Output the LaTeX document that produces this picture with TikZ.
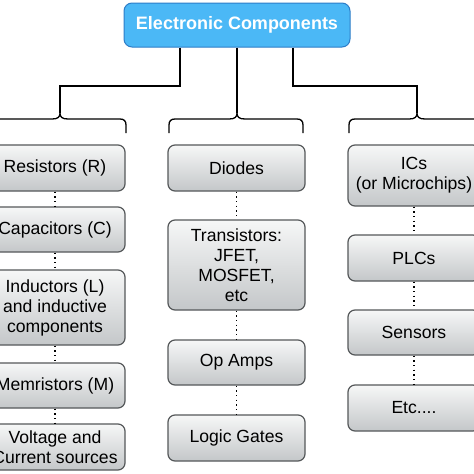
\documentclass[tikz,border=0pt]{standalone}
\usepackage{fontspec}
\setmainfont{Liberation Sans}
\begin{document}
\begin{tikzpicture}[x=1pt,y=-1pt,
  titlebox/.style={draw={rgb,255:red,45;green,125;blue,200}, line width=1pt, fill={rgb,255:red,75;green,184;blue,246},
     rounded corners=8pt, text=white, font=\fontsize{18}{21}\selectfont\bfseries,
     minimum width=226pt, minimum height=44pt, inner sep=0pt},
  itembox/.style={draw={rgb,255:red,85;green,88;blue,90}, line width=1.2pt, rounded corners=7pt,
     top color={rgb,255:red,246;green,247;blue,247}, bottom color={rgb,255:red,196;green,199;blue,201},
     align=center, font=\fontsize{17.6}{20}\selectfont, inner sep=0pt},
  lc/.style={itembox, minimum width=140pt},
  mc/.style={itembox, minimum width=137pt},
  rc/.style={itembox, minimum width=132pt},
  brace/.style={line width=1.3pt, black},
  dots/.style={line width=1.2pt, black, dash pattern=on 1.2pt off 3.5pt}]
\useasboundingbox (0,0) rectangle (474,474);
\clip (0,0) rectangle (474,474);
\fill[white] (0,0) rectangle (474,474);

\node[titlebox] (top) at (237,25) {Electronic Components};

% left column
\node[lc, minimum height=46pt] (res) at (55,168) {Resistors (R)};
\node[lc, minimum height=45pt] (cap) at (55,229.5) {Capacitors (C)};
\node[lc, minimum height=75pt] (ind) at (55,307.5) {Inductors (L)\\and inductive\\components};
\node[lc, minimum height=45pt] (mem) at (55,385.5) {Memristors (M)};
\node[lc, minimum height=46pt] (vol) at (55,447) {Voltage and\\Current sources};

% middle column
\node[mc, minimum height=46pt] (dio) at (236.5,168) {Diodes};
\node[mc, minimum height=90pt] (tra) at (236.5,265) {Transistors:\\JFET,\\MOSFET,\\etc};
\node[mc, minimum height=45pt] (opa) at (236.5,362.5) {Op Amps};
\node[mc, minimum height=46pt] (log) at (236.5,438) {Logic Gates};

% right column
\node[rc, minimum height=61pt] (ics) at (414,175.5) {ICs\\(or Microchips)};
\node[rc, minimum height=46pt] (plc) at (414,258) {PLCs};
\node[rc, minimum height=45pt] (sen) at (414,332.5) {Sensors};
\node[rc, minimum height=46pt] (etc) at (414,408) {Etc....};

% dotted connectors
\draw[dots] (res.south) -- (cap.north);
\draw[dots] (cap.south) -- (ind.north);
\draw[dots] (ind.south) -- (mem.north);
\draw[dots] (mem.south) -- (vol.north);
\draw[dots] (dio.south) -- (tra.north);
\draw[dots] (tra.south) -- (opa.north);
\draw[dots] (opa.south) -- (log.north);
\draw[dots] (ics.south) -- (plc.north);
\draw[dots] (plc.south) -- (sen.north);
\draw[dots] (sen.south) -- (etc.north);

% brace tips
\coordinate (tl) at (60,113);
\coordinate (tm) at (237,113);
\coordinate (tr) at (417,113);

% braces
\draw[brace] (-10,133) -- (-10,125) .. controls (-10,120) and (-8,119) .. (-4,119) -- (52,119)
   .. controls (58,119) and (60,117) .. (tl) .. controls (60,117) and (62,119) .. (68,119)
   -- (120,119) .. controls (124,119) and (126,121) .. (126,125) -- (126,133);
\draw[brace] (169,133) -- (169,125) .. controls (169,121) and (171,119) .. (175,119) -- (229,119)
   .. controls (235,119) and (237,117) .. (tm) .. controls (237,117) and (239,119) .. (245,119)
   -- (297,119) .. controls (301,119) and (303,121) .. (303,125) -- (303,133);
\draw[brace] (349,133) -- (349,125) .. controls (349,121) and (351,119) .. (355,119) -- (409,119)
   .. controls (415,119) and (417,117) .. (tr) .. controls (417,117) and (419,119) .. (425,119)
   -- (480,119);

% connectors from title
\draw[brace] (top.south -| 180,0) -- (180,86) -- (60,86) -- (tl);
\draw[brace] (top.south) -- (tm);
\draw[brace] (top.south -| 293,0) -- (293,86) -- (417,86) -- (tr);
\end{tikzpicture}
\end{document}
